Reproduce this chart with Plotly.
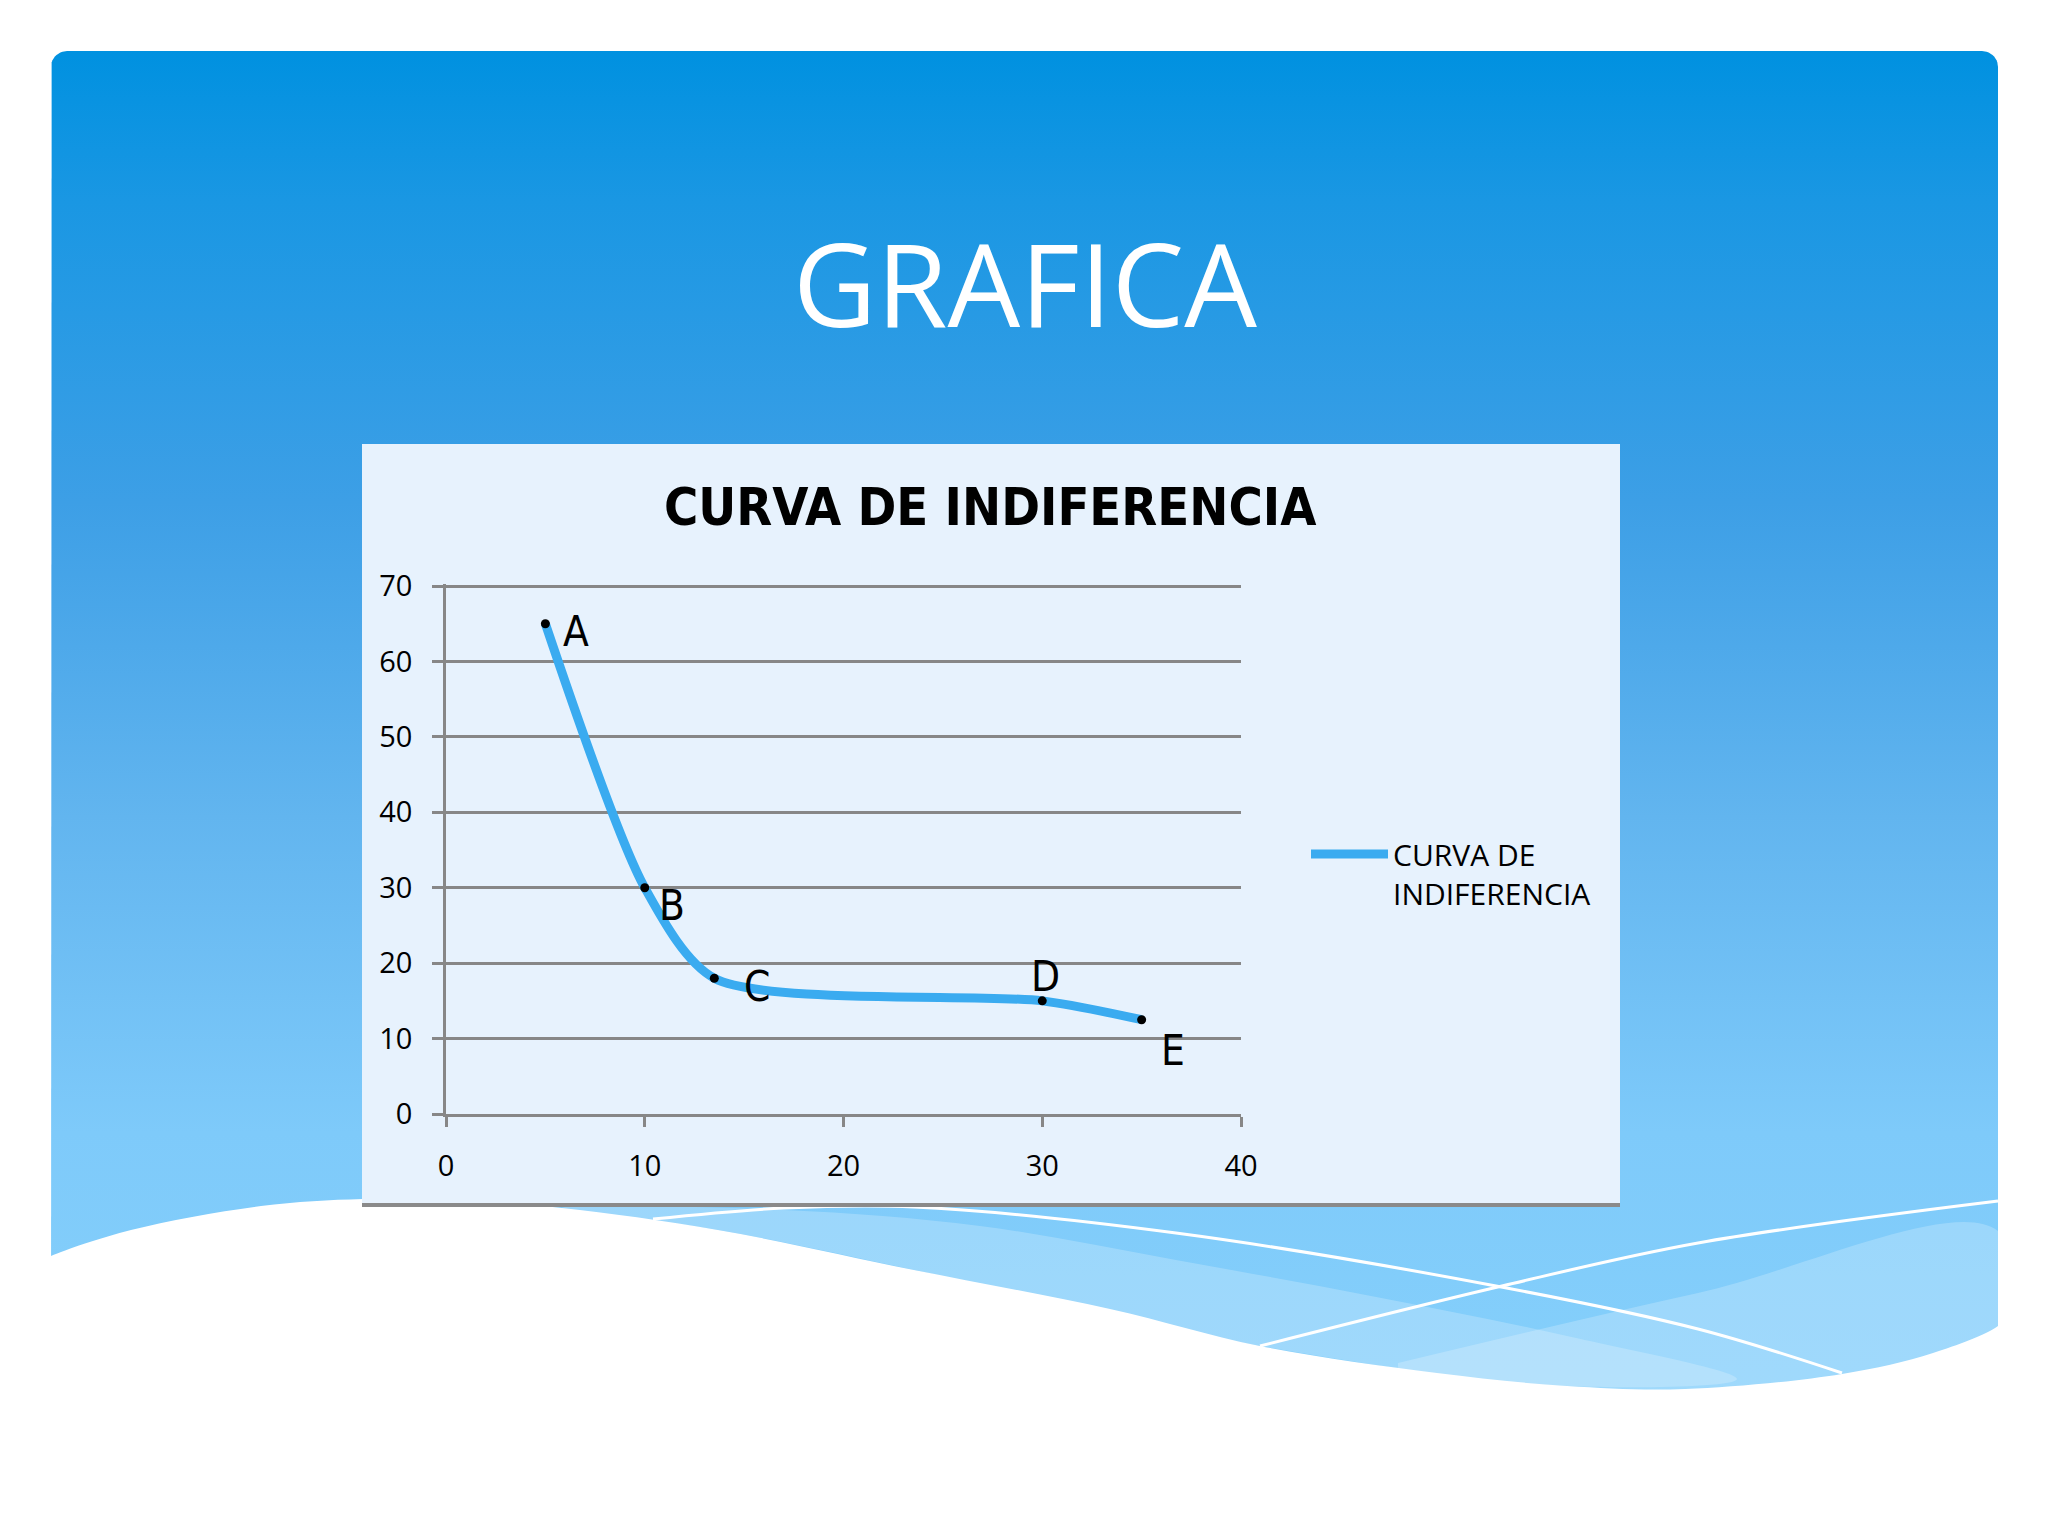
import numpy as np
import plotly.graph_objects as go

# Chart data
x_vals = [5, 10, 13.5, 30, 35]
y_vals = [65, 30, 18, 15, 12.5]
point_labels = ["A", "B", "C", "D", "E"]
x_ticks = [0, 10, 20, 30, 40]
y_ticks = [0, 10, 20, 30, 40, 50, 60, 70]

slide_title = "GRAFICA"
chart_title = "CURVA DE INDIFERENCIA"
series_name = "CURVA DE<br>INDIFERENCIA"

# page is 2048x1536, the body keeps its 8px margin -> figure a bit smaller
OFF = 8
FW, FH = 2048 - 2 * OFF, 1536 - 2 * OFF
LINE_BLUE = "#3aabf0"
GRID_GRAY = "#878787"
NARROW = "Liberation Sans Narrow, DejaVu Sans Condensed, Open Sans, sans-serif"
SANS = "Open Sans, sans-serif"


def px_x(v):
    return (v - OFF) / FW


def px_y(v):
    return 1 - (v - OFF) / FH


fig = go.Figure()

# ---- slide background, drawn on a hidden full-page pixel axis (x / y) ----
def rounded_top_box(x0, y0, x1, y1, r):
    a = np.linspace(np.pi, 1.5 * np.pi, 12)
    left = [(x0 + r + r * np.cos(t), y0 + r + r * np.sin(t)) for t in a]
    a = np.linspace(1.5 * np.pi, 2 * np.pi, 12)
    right = [(x1 - r + r * np.cos(t), y0 + r + r * np.sin(t)) for t in a]
    pts = [(x0, y1)] + left + right + [(x1, y1), (x0, y1)]
    return [p[0] for p in pts], [p[1] for p in pts]

bx, by = rounded_top_box(51, 51, 1998, 1420, 16)
fig.add_trace(go.Scatter(
    x=bx, y=by, mode="lines", fill="toself", line=dict(width=0),
    fillgradient=dict(type="vertical", start=51, stop=1420,
                      colorscale=[[0, "#0091e0"], [0.11, "#1a97e3"], [0.33, "#3d9fe6"],
                                  [0.56, "#62b5ef"], [0.79, "#7ecafa"], [1, "#86d0fb"]]),
    hoverinfo="skip", showlegend=False, xaxis="x", yaxis="y"))

# lighter translucent bands above the wave
bands = [
    ([562, 784, 980, 1176, 1371, 1567, 1737, 1567, 1260, 914, 718, 562],
     [1208, 1210, 1226, 1260, 1296, 1336, 1379, 1386, 1346, 1270, 1230, 1208]),
    ([1398, 1698, 1998, 1998, 1398],
     [1363, 1293, 1231, 1400, 1400]),
]
for bxs, bys in bands:
    fig.add_trace(go.Scatter(x=bxs, y=bys, mode="lines", fill="toself",
                             fillcolor="rgba(255,255,255,0.22)", line=dict(width=0, shape="spline"),
                             hoverinfo="skip", showlegend=False, xaxis="x", yaxis="y"))

# white wave
wave_x = [40, 51, 131, 261, 363, 460, 562, 718, 914, 1110, 1260, 1437, 1567, 1685,
          1842, 1933, 1998, 2010, 2048, 2048, 0, 0]
wave_y = [1262, 1256, 1230, 1206, 1199, 1200, 1208, 1230, 1270, 1309, 1346, 1373, 1386,
          1389, 1374, 1353, 1326, 1312, 1310, 1536, 1536, 1262]
fig.add_trace(go.Scatter(x=wave_x, y=wave_y, mode="lines", fill="toself", fillcolor="white",
                         line=dict(width=0, shape="spline"), hoverinfo="skip",
                         showlegend=False, xaxis="x", yaxis="y"))

# thin white swoosh lines
swooshes = [
    ([653, 784, 914, 1176, 1496, 1698, 1842], [1219, 1208, 1207, 1233, 1286, 1329, 1373]),
    ([1260, 1502, 1698, 1998], [1346, 1286, 1243, 1201]),
]
for sx, sy in swooshes:
    fig.add_trace(go.Scatter(x=sx, y=sy, mode="lines", line=dict(color="white", width=3, shape="spline"),
                             hoverinfo="skip", showlegend=False, xaxis="x", yaxis="y"))

# chart panel
fig.add_trace(go.Scatter(x=[362, 1620, 1620, 362, 362], y=[444, 444, 1204, 1204, 444],
                         mode="lines", fill="toself", fillcolor="#e7f2fd", line=dict(width=0),
                         hoverinfo="skip", showlegend=False, xaxis="x", yaxis="y"))
fig.add_trace(go.Scatter(x=[362, 1620], y=[1205, 1205], mode="lines",
                         line=dict(color="#8a8a8a", width=4),
                         hoverinfo="skip", showlegend=False, xaxis="x", yaxis="y"))

# ---- the actual chart (x2 / y2) ----
fig.add_trace(go.Scatter(
    x=x_vals, y=y_vals, mode="lines", name=series_name,
    line=dict(color=LINE_BLUE, width=9, shape="spline", smoothing=0.75),
    xaxis="x2", yaxis="y2"))
fig.add_trace(go.Scatter(
    x=x_vals, y=y_vals, mode="markers", marker=dict(color="black", size=9),
    showlegend=False, xaxis="x2", yaxis="y2"))

label_shift = [(31, -8), (27, -18), (43, -8), (3, 24), (31, -31)]
for xv, yv, lab, (dx, dy) in zip(x_vals, y_vals, point_labels, label_shift):
    fig.add_annotation(x=xv, y=yv, xref="x2", yref="y2", text=lab, showarrow=False,
                       xshift=dx, yshift=dy, font=dict(family=NARROW, size=42, color="black"))

fig.add_annotation(x=px_x(1025), y=px_y(282), xref="paper", yref="paper", text=slide_title,
                   xanchor="center", yanchor="middle", showarrow=False,
                   font=dict(family=SANS, size=115, color="white"))
fig.add_annotation(x=px_x(990), y=px_y(507), xref="paper", yref="paper", text="<b>" + chart_title + "</b>",
                   xanchor="center", yanchor="middle", showarrow=False,
                   font=dict(family=NARROW, size=52, color="black"))

# y range slightly past 70 so the top gridline is not clipped
y_top = 70.25
px_per_unit = (1114 - 586) / 70

fig.update_layout(
    width=FW, height=FH, margin=dict(l=0, r=0, t=0, b=0, pad=0, autoexpand=False),
    paper_bgcolor="white", plot_bgcolor="rgba(0,0,0,0)",
    hovermode=False,
    xaxis=dict(domain=[0, 1], range=[OFF, OFF + FW], visible=False, fixedrange=True),
    yaxis=dict(domain=[0, 1], range=[OFF + FH, OFF], visible=False, fixedrange=True),
    xaxis2=dict(domain=[px_x(446), px_x(1241)], range=[0, 40], anchor="y2",
                tickvals=x_ticks, showgrid=False, zeroline=False,
                showline=True, linecolor=GRID_GRAY, linewidth=2.5,
                ticks="outside", ticklen=10, tickwidth=2.5, tickcolor=GRID_GRAY,
                ticklabelstandoff=14, tickfont=dict(family=SANS, size=29, color="black")),
    yaxis2=dict(domain=[px_y(1114), px_y(586 - (y_top - 70) * px_per_unit)], range=[0, y_top],
                anchor="x2", tickvals=y_ticks, showgrid=True, gridcolor=GRID_GRAY, gridwidth=2.5,
                zeroline=False, showline=True, linecolor=GRID_GRAY, linewidth=2.5,
                ticks="outside", ticklen=11, tickwidth=2.5, tickcolor=GRID_GRAY,
                ticklabelstandoff=14, tickfont=dict(family=SANS, size=29, color="black")),
    showlegend=True,
    legend=dict(x=px_x(1306), y=px_y(828), xanchor="left", yanchor="top",
                bgcolor="rgba(0,0,0,0)", valign="top", itemwidth=77,
                font=dict(family=SANS, size=30, color="black")),
)

fig.write_html("out.html")
